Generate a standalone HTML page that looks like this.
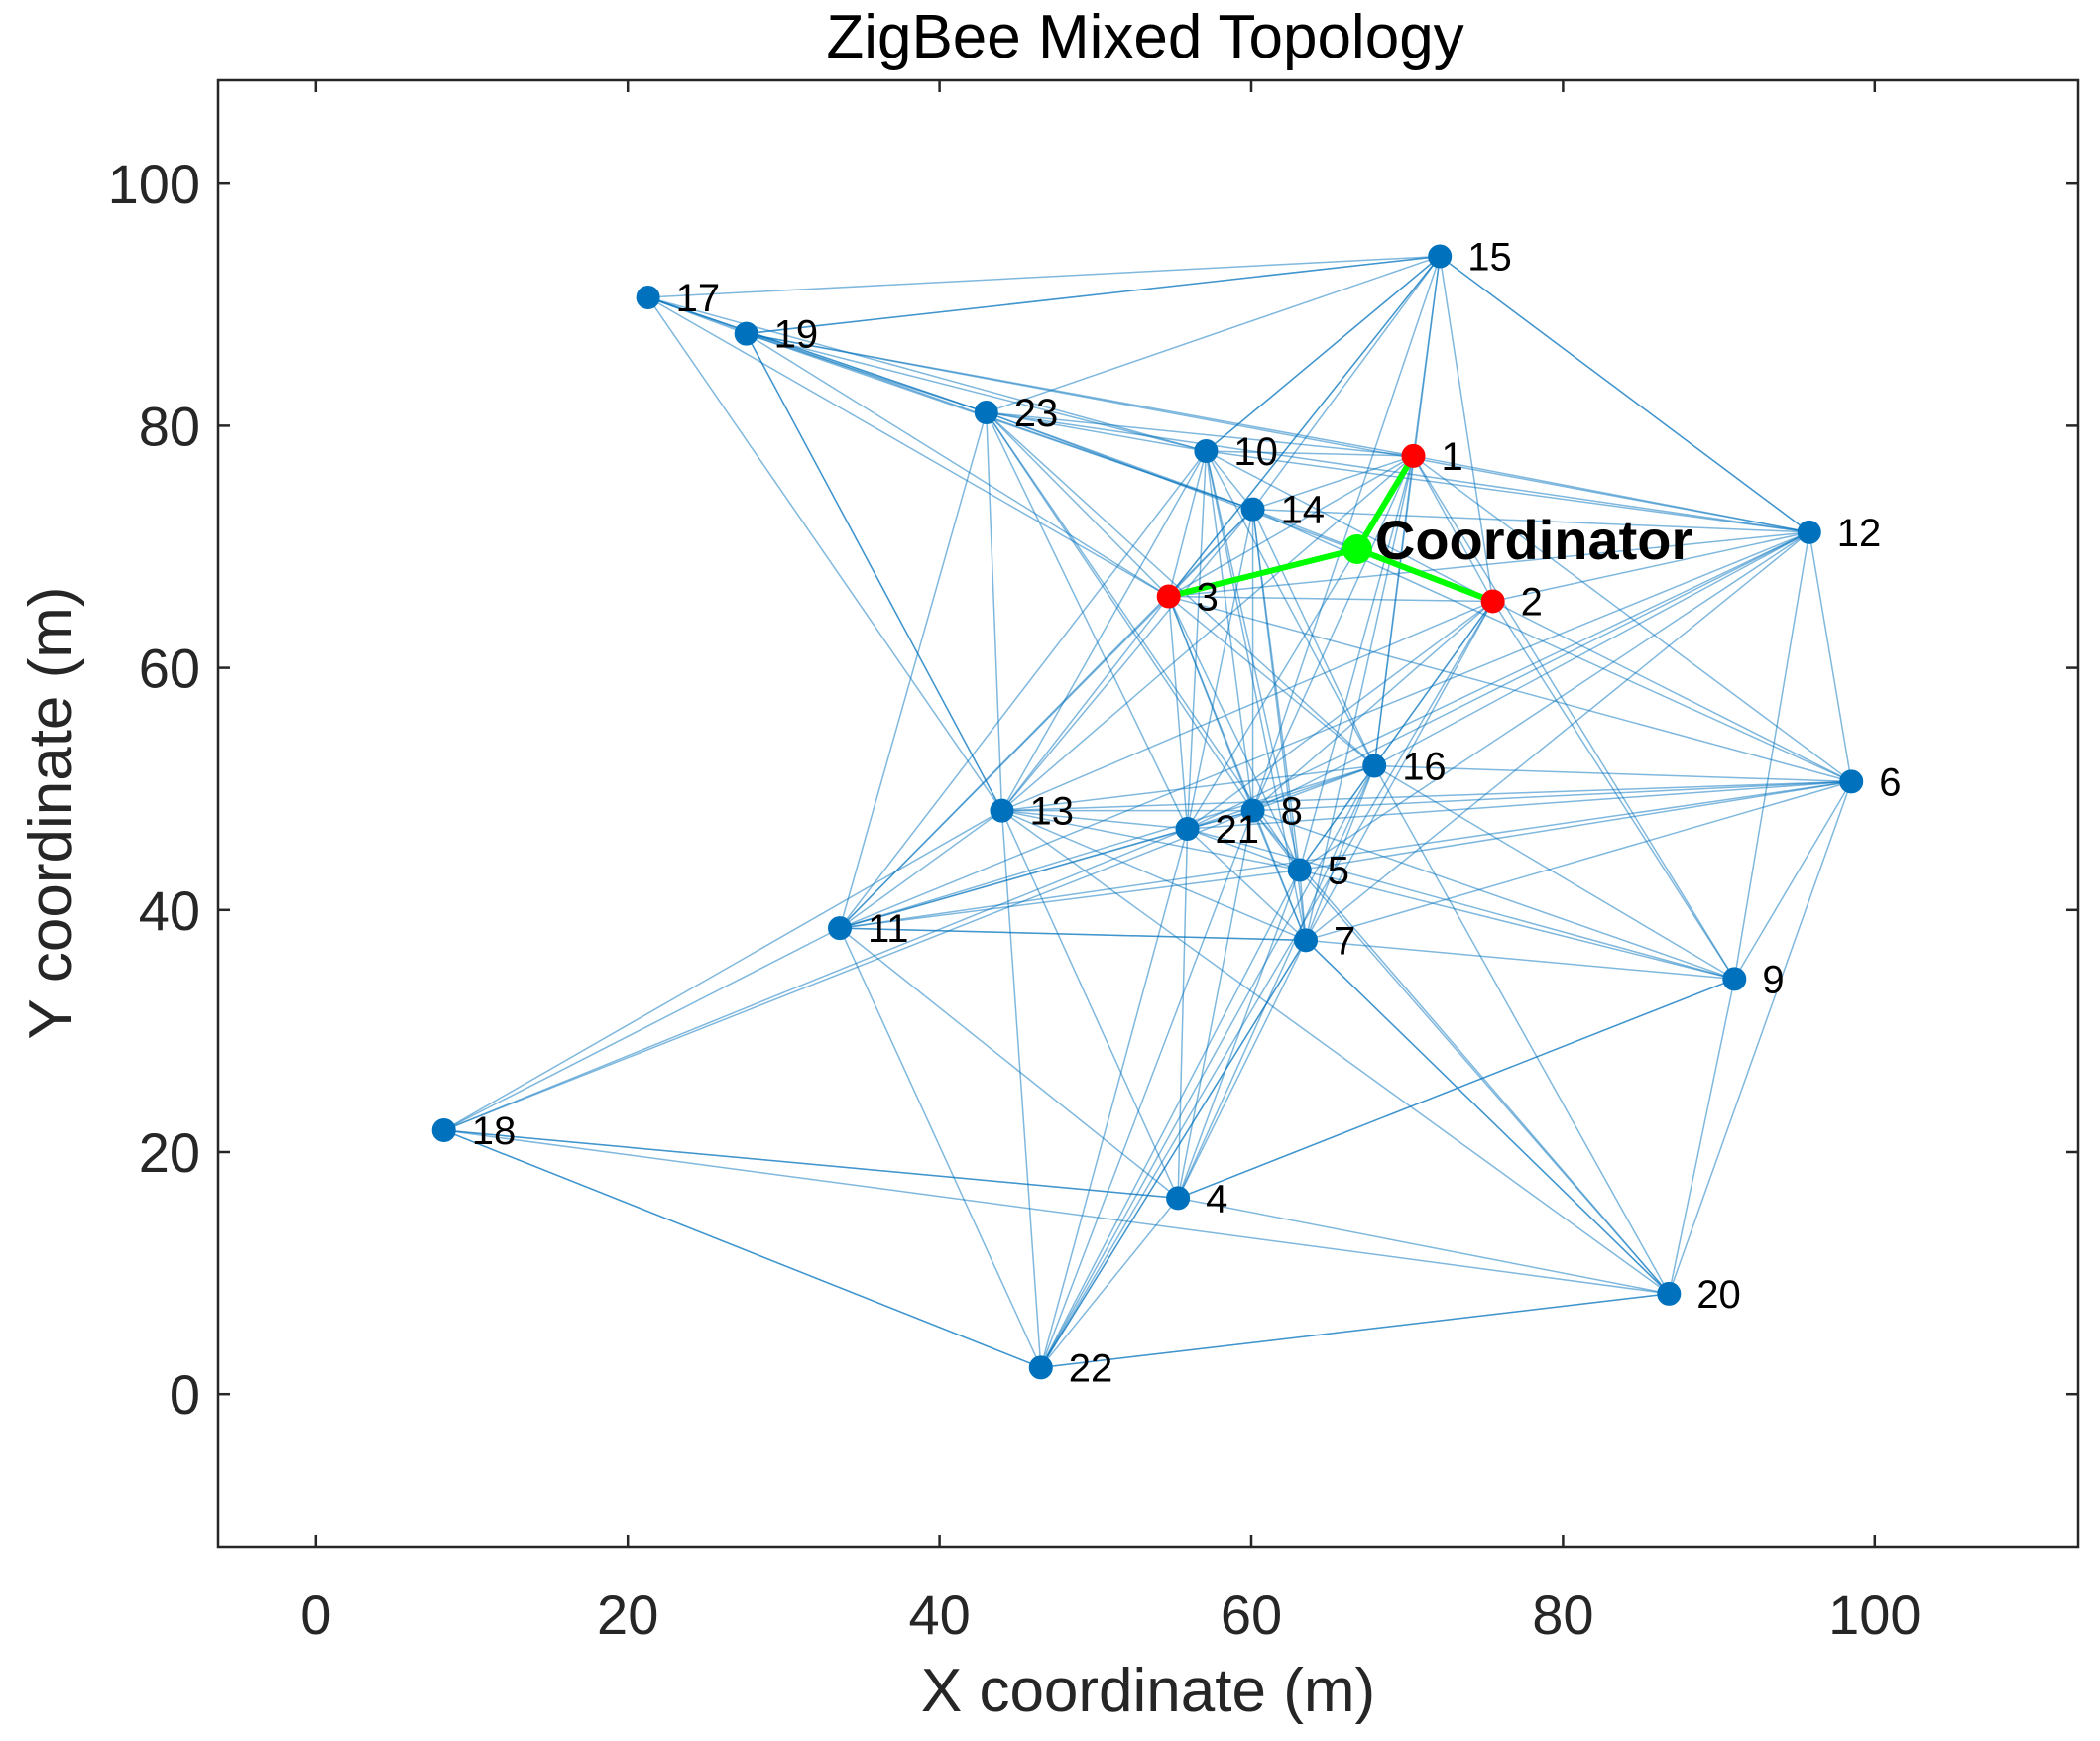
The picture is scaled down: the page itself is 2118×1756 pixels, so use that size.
<!DOCTYPE html>
<html><head><meta charset="utf-8"><style>
html,body{margin:0;padding:0;background:#fff;}
svg{display:block;font-family:"Liberation Sans",Arial,sans-serif;}
</style></head><body>
<svg id="s" width="2118" height="1756" viewBox="0 0 2118 1756" xmlns="http://www.w3.org/2000/svg">
<rect width="2118" height="1756" fill="#fff"/>
<g id="edges" stroke="#0072BD" stroke-opacity="0.5" stroke-width="1.5"></g>
<g id="green" stroke="#00FF00" stroke-width="6" stroke-linecap="round"></g>
<g id="nodes"></g>
<g id="labels" font-size="40" fill="#000"></g>
<rect x="220" y="81" width="1876" height="1479" fill="none" stroke="#262626" stroke-width="2.5"/>
<g id="ticks" stroke="#262626" stroke-width="2.5"></g>
<g id="ticklabels" font-size="56" fill="#262626"></g>
<text x="1155" y="58" font-size="62" text-anchor="middle" fill="#000">ZigBee Mixed Topology</text>
<text x="1158" y="1726" font-size="62" text-anchor="middle" fill="#262626">X coordinate (m)</text>
<text transform="translate(72,820) rotate(-90)" font-size="62" text-anchor="middle" fill="#262626">Y coordinate (m)</text>
</svg>
<script>
var NS="http://www.w3.org/2000/svg";
function X(v){return 318.8+v*15.72;}
function Y(v){return 1406.2-v*12.21;}
function el(p,t,a){var e=document.createElementNS(NS,t);for(var k in a)e.setAttribute(k,a[k]);document.getElementById(p).appendChild(e);return e;}
var N={1:[70.4,77.5],2:[75.5,65.5],3:[54.7,65.9],4:[55.3,16.2],5:[63.1,43.3],6:[98.5,50.6],7:[63.5,37.5],8:[60.1,48.2],9:[91.0,34.3],10:[57.1,77.9],11:[33.6,38.5],12:[95.8,71.2],13:[44.0,48.2],14:[60.1,73.1],15:[72.1,94.0],16:[67.9,51.9],17:[21.3,90.6],18:[8.2,21.8],19:[27.6,87.6],20:[86.8,8.3],21:[55.9,46.7],22:[46.5,2.2],23:[43.0,81.1]};
var C=[66.8,69.8];
var extra=[[18,20],[18,22],[18,8],[18,21],[18,4],[17,15],[19,15],[17,13],[19,13],[17,23],[19,12],[23,12],[22,20],[4,9],[11,7],[11,6],[22,7],[22,16],[22,2],[20,8],[20,7],[20,13],[12,11],[6,13],[15,10],[15,3],[15,12]];
var ids=Object.keys(N);
for(var i=0;i<ids.length;i++)for(var j=i+1;j<ids.length;j++){var a=N[ids[i]],b=N[ids[j]];var d=Math.hypot(a[0]-b[0],a[1]-b[1]);if(d<48)el("edges","line",{x1:X(a[0]),y1:Y(a[1]),x2:X(b[0]),y2:Y(b[1])});}
extra.forEach(function(p){var a=N[p[0]],b=N[p[1]];el("edges","line",{x1:X(a[0]),y1:Y(a[1]),x2:X(b[0]),y2:Y(b[1])});});
[1,2,3].forEach(function(k){el("green","line",{x1:X(C[0]),y1:Y(C[1]),x2:X(N[k][0]),y2:Y(N[k][1])});});
ids.forEach(function(k){var a=N[k];var red=(k=="1"||k=="2"||k=="3");
el("nodes","circle",{cx:X(a[0]),cy:Y(a[1]),r:11,fill:red?"#FF0000":"#0072BD",stroke:red?"#FF0000":"#0072BD","stroke-width":2});
var t=el("labels","text",{x:X(a[0])+28,y:Y(a[1])+14});t.textContent=k;});
el("nodes","circle",{cx:X(C[0]),cy:Y(C[1]),r:15,fill:"#00FF00"});
var ct=el("labels","text",{x:X(C[0])+18,y:Y(C[1])+10,"font-size":56,"font-weight":"bold"});ct.textContent="Coordinator";
for(var v=0;v<=100;v+=20){
el("ticks","line",{x1:X(v),y1:1560,x2:X(v),y2:1548});el("ticks","line",{x1:X(v),y1:81,x2:X(v),y2:93});
el("ticks","line",{x1:220,y1:Y(v),x2:232,y2:Y(v)});el("ticks","line",{x1:2096,y1:Y(v),x2:2084,y2:Y(v)});
var t=el("ticklabels","text",{x:X(v),y:1648,"text-anchor":"middle"});t.textContent=v;
var u=el("ticklabels","text",{x:202,y:Y(v)+20,"text-anchor":"end"});u.textContent=v;}
</script>
</body></html>
